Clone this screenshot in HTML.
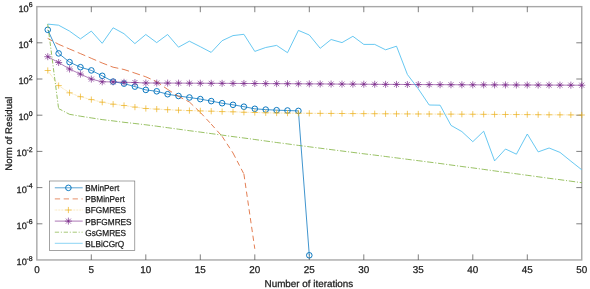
<!DOCTYPE html>
<html><head><meta charset="utf-8"><title>Norm of Residual</title>
<style>html,body{margin:0;padding:0;background:#fff}svg{display:block}text{font-family:"Liberation Sans",Arial,Helvetica,sans-serif;fill:#1a1a1a;stroke:#1a1a1a;stroke-width:0.25px;text-rendering:geometricPrecision}</style></head><body>
<svg width="590" height="289" viewBox="0 0 590 289">
<rect width="590" height="289" fill="#fff"/>
<g>
<rect x="36.85" y="6.65" width="544.90" height="253.30" fill="none" stroke="#262626" stroke-opacity="0.4" stroke-width="1.4"/>
<path d="M91.3,259.9v-5.5M91.3,6.7v5.5M145.8,259.9v-5.5M145.8,6.7v5.5M200.3,259.9v-5.5M200.3,6.7v5.5M254.8,259.9v-5.5M254.8,6.7v5.5M309.3,259.9v-5.5M309.3,6.7v5.5M363.8,259.9v-5.5M363.8,6.7v5.5M418.3,259.9v-5.5M418.3,6.7v5.5M472.8,259.9v-5.5M472.8,6.7v5.5M527.3,259.9v-5.5M527.3,6.7v5.5M36.9,42.8h5.5M581.8,42.8h-5.5M36.9,79.0h5.5M581.8,79.0h-5.5M36.9,115.2h5.5M581.8,115.2h-5.5M36.9,151.4h5.5M581.8,151.4h-5.5M36.9,187.6h5.5M581.8,187.6h-5.5M36.9,223.8h5.5M581.8,223.8h-5.5" fill="none" stroke="#262626" stroke-opacity="0.9" stroke-width="0.65"/>
<g fill="none" stroke-linejoin="round">
<polyline points="47.7,29.8 58.6,53.4 69.5,62.1 80.4,67.2 91.3,70.4 102.2,75.8 113.1,81.6 124.0,83.6 134.9,86.6 145.8,89.9 156.7,91.3 167.6,94.2 178.5,96.0 189.4,97.5 200.3,99.1 211.2,101.1 222.1,103.2 233.0,104.8 243.9,106.7 254.8,108.8 265.7,109.6 276.6,110.2 287.5,110.5 298.4,110.9 309.3,255.3" stroke="#0072BD" stroke-width="0.75"/>
<path d="M44.95,29.80a2.80,2.80 0 1,0 5.60,0a2.80,2.80 0 1,0 -5.60,0M55.85,53.40a2.80,2.80 0 1,0 5.60,0a2.80,2.80 0 1,0 -5.60,0M66.74,62.10a2.80,2.80 0 1,0 5.60,0a2.80,2.80 0 1,0 -5.60,0M77.64,67.20a2.80,2.80 0 1,0 5.60,0a2.80,2.80 0 1,0 -5.60,0M88.54,70.40a2.80,2.80 0 1,0 5.60,0a2.80,2.80 0 1,0 -5.60,0M99.44,75.80a2.80,2.80 0 1,0 5.60,0a2.80,2.80 0 1,0 -5.60,0M110.34,81.60a2.80,2.80 0 1,0 5.60,0a2.80,2.80 0 1,0 -5.60,0M121.23,83.60a2.80,2.80 0 1,0 5.60,0a2.80,2.80 0 1,0 -5.60,0M132.13,86.60a2.80,2.80 0 1,0 5.60,0a2.80,2.80 0 1,0 -5.60,0M143.03,89.90a2.80,2.80 0 1,0 5.60,0a2.80,2.80 0 1,0 -5.60,0M153.93,91.30a2.80,2.80 0 1,0 5.60,0a2.80,2.80 0 1,0 -5.60,0M164.83,94.20a2.80,2.80 0 1,0 5.60,0a2.80,2.80 0 1,0 -5.60,0M175.72,96.00a2.80,2.80 0 1,0 5.60,0a2.80,2.80 0 1,0 -5.60,0M186.62,97.50a2.80,2.80 0 1,0 5.60,0a2.80,2.80 0 1,0 -5.60,0M197.52,99.10a2.80,2.80 0 1,0 5.60,0a2.80,2.80 0 1,0 -5.60,0M208.42,101.10a2.80,2.80 0 1,0 5.60,0a2.80,2.80 0 1,0 -5.60,0M219.32,103.20a2.80,2.80 0 1,0 5.60,0a2.80,2.80 0 1,0 -5.60,0M230.21,104.80a2.80,2.80 0 1,0 5.60,0a2.80,2.80 0 1,0 -5.60,0M241.11,106.70a2.80,2.80 0 1,0 5.60,0a2.80,2.80 0 1,0 -5.60,0M252.01,108.80a2.80,2.80 0 1,0 5.60,0a2.80,2.80 0 1,0 -5.60,0M262.91,109.60a2.80,2.80 0 1,0 5.60,0a2.80,2.80 0 1,0 -5.60,0M273.81,110.20a2.80,2.80 0 1,0 5.60,0a2.80,2.80 0 1,0 -5.60,0M284.70,110.50a2.80,2.80 0 1,0 5.60,0a2.80,2.80 0 1,0 -5.60,0M295.60,110.90a2.80,2.80 0 1,0 5.60,0a2.80,2.80 0 1,0 -5.60,0M306.50,255.30a2.80,2.80 0 1,0 5.60,0a2.80,2.80 0 1,0 -5.60,0" stroke="#0072BD" stroke-width="0.95"/>
<path d="M47.7,38.4L58.6,44.3M58.6,44.3L69.5,49.0M69.5,49.0L80.4,53.6M80.4,53.6L91.3,58.3M91.3,58.3L102.2,63.0M102.2,63.0L113.1,67.2M113.1,67.2L124.0,69.5M124.0,69.5L134.9,73.1M134.9,73.1L145.8,76.8M145.8,76.8L156.7,81.7M156.7,81.7L167.6,89.4M167.6,89.4L178.5,96.4M178.5,96.4L189.4,102.0M189.4,102.0L200.3,112.4M200.3,112.4L211.2,124.1M211.2,124.1L222.1,136.3M222.1,136.3L233.0,153.0M233.0,153.0L243.9,174.0M243.9,174.0L254.8,248.8" stroke="#D95319" stroke-width="0.75" stroke-dasharray="5.3,3.6"/>
<path d="M47.7,70.5L58.6,85.6M58.6,85.6L69.5,92.8M69.5,92.8L80.4,96.7M80.4,96.7L91.3,99.6M91.3,99.6L102.2,102.2M102.2,102.2L113.1,104.2M113.1,104.2L124.0,105.5M124.0,105.5L134.9,107.1M134.9,107.1L145.8,108.5M145.8,108.5L156.7,109.1M156.7,109.1L167.6,109.7M167.6,109.7L178.5,110.2M178.5,110.2L189.4,110.6M189.4,110.6L200.3,110.9M200.3,110.9L211.2,111.2M211.2,111.2L222.1,111.6M222.1,111.6L233.0,111.8M233.0,111.8L243.9,112.2M243.9,112.2L254.8,112.5M254.8,112.5L265.7,112.8M265.7,112.8L276.6,113.0M276.6,113.0L287.5,113.1M287.5,113.1L298.4,113.2M298.4,113.2L309.3,113.3M309.3,113.3L320.2,113.4M320.2,113.4L331.1,113.4M331.1,113.4L342.0,113.5M342.0,113.5L352.9,113.6M352.9,113.6L363.8,113.6M363.8,113.6L374.7,113.7M374.7,113.7L385.6,113.8M385.6,113.8L396.5,113.8M396.5,113.8L407.4,113.9M407.4,113.9L418.3,114.0M418.3,114.0L429.2,114.0M429.2,114.0L440.1,114.1M440.1,114.1L451.0,114.1M451.0,114.1L461.9,114.2M461.9,114.2L472.8,114.2M472.8,114.2L483.7,114.3M483.7,114.3L494.6,114.4M494.6,114.4L505.5,114.5M505.5,114.5L516.4,114.5M516.4,114.5L527.3,114.6M527.3,114.6L538.2,114.7M538.2,114.7L549.1,114.8M549.1,114.8L560.0,114.8M560.0,114.8L570.9,114.9M570.9,114.9L581.8,115.0" stroke="#EDB120" stroke-width="0.75" stroke-opacity="0.6" stroke-dasharray="0.7,0.8"/>
<path d="M44.65,70.50h6.20M47.75,67.40v6.20M55.55,85.60h6.20M58.65,82.50v6.20M66.44,92.80h6.20M69.54,89.70v6.20M77.34,96.70h6.20M80.44,93.60v6.20M88.24,99.60h6.20M91.34,96.50v6.20M99.14,102.20h6.20M102.24,99.10v6.20M110.04,104.20h6.20M113.14,101.10v6.20M120.93,105.50h6.20M124.03,102.40v6.20M131.83,107.10h6.20M134.93,104.00v6.20M142.73,108.50h6.20M145.83,105.40v6.20M153.63,109.10h6.20M156.73,106.00v6.20M164.53,109.70h6.20M167.63,106.60v6.20M175.42,110.20h6.20M178.52,107.10v6.20M186.32,110.60h6.20M189.42,107.50v6.20M197.22,110.90h6.20M200.32,107.80v6.20M208.12,111.20h6.20M211.22,108.10v6.20M219.02,111.60h6.20M222.12,108.50v6.20M229.91,111.80h6.20M233.01,108.70v6.20M240.81,112.25h6.20M243.91,109.15v6.20M251.71,112.50h6.20M254.81,109.40v6.20M262.61,112.80h6.20M265.71,109.70v6.20M273.51,113.00h6.20M276.61,109.90v6.20M284.40,113.10h6.20M287.50,110.00v6.20M295.30,113.20h6.20M298.40,110.10v6.20M306.20,113.30h6.20M309.30,110.20v6.20M317.10,113.37h6.20M320.20,110.27v6.20M328.00,113.44h6.20M331.10,110.34v6.20M338.89,113.51h6.20M341.99,110.41v6.20M349.79,113.57h6.20M352.89,110.47v6.20M360.69,113.64h6.20M363.79,110.54v6.20M371.59,113.71h6.20M374.69,110.61v6.20M382.49,113.78h6.20M385.59,110.68v6.20M393.38,113.85h6.20M396.48,110.75v6.20M404.28,113.91h6.20M407.38,110.81v6.20M415.18,113.96h6.20M418.28,110.86v6.20M426.08,114.02h6.20M429.18,110.92v6.20M436.98,114.08h6.20M440.08,110.98v6.20M447.87,114.14h6.20M450.97,111.04v6.20M458.77,114.19h6.20M461.87,111.09v6.20M469.67,114.25h6.20M472.77,111.15v6.20M480.57,114.33h6.20M483.67,111.23v6.20M491.47,114.40h6.20M494.57,111.30v6.20M502.36,114.47h6.20M505.46,111.38v6.20M513.26,114.55h6.20M516.36,111.45v6.20M524.16,114.62h6.20M527.26,111.53v6.20M535.06,114.70h6.20M538.16,111.60v6.20M545.96,114.78h6.20M549.06,111.68v6.20M556.85,114.85h6.20M559.95,111.75v6.20M567.75,114.92h6.20M570.85,111.83v6.20M578.65,115.00h6.20M581.75,111.90v6.20" stroke="#EDB120" stroke-width="0.7"/>
<polyline points="47.7,56.7 58.6,62.5 69.5,69.0 80.4,74.1 91.3,79.1 102.2,81.8 113.1,81.9 124.0,82.3 134.9,82.5 145.8,83.0 156.7,83.0 167.6,83.1 178.5,83.1 189.4,83.2 200.3,83.2 211.2,83.3 222.1,83.3 233.0,83.4 243.9,83.5 254.8,83.5 265.7,83.6 276.6,83.7 287.5,83.7 298.4,83.8 309.3,83.9 320.2,83.9 331.1,84.0 342.0,84.1 352.9,84.1 363.8,84.2 374.7,84.3 385.6,84.4 396.5,84.4 407.4,84.5 418.3,84.6 429.2,84.6 440.1,84.7 451.0,84.7 461.9,84.8 472.8,84.8 483.7,84.9 494.6,84.9 505.5,84.9 516.4,85.0 527.3,85.0 538.2,85.0 549.1,85.1 560.0,85.1 570.9,85.2 581.8,85.2" stroke="#7E2F8E" stroke-width="0.62"/>
<path d="M44.25,56.70h7.00M47.75,53.20v7.00M45.25,54.20l5.00,5.00M45.25,59.20l5.00,-5.00M47.35,56.30h0.8v0.8h-0.8zM55.15,62.50h7.00M58.65,59.00v7.00M56.15,60.00l5.00,5.00M56.15,65.00l5.00,-5.00M58.25,62.10h0.8v0.8h-0.8zM66.04,69.00h7.00M69.54,65.50v7.00M67.04,66.50l5.00,5.00M67.04,71.50l5.00,-5.00M69.14,68.60h0.8v0.8h-0.8zM76.94,74.10h7.00M80.44,70.60v7.00M77.94,71.60l5.00,5.00M77.94,76.60l5.00,-5.00M80.04,73.70h0.8v0.8h-0.8zM87.84,79.10h7.00M91.34,75.60v7.00M88.84,76.60l5.00,5.00M88.84,81.60l5.00,-5.00M90.94,78.70h0.8v0.8h-0.8zM98.74,81.80h7.00M102.24,78.30v7.00M99.74,79.30l5.00,5.00M99.74,84.30l5.00,-5.00M101.84,81.40h0.8v0.8h-0.8zM109.64,81.90h7.00M113.14,78.40v7.00M110.64,79.40l5.00,5.00M110.64,84.40l5.00,-5.00M112.74,81.50h0.8v0.8h-0.8zM120.53,82.30h7.00M124.03,78.80v7.00M121.53,79.80l5.00,5.00M121.53,84.80l5.00,-5.00M123.63,81.90h0.8v0.8h-0.8zM131.43,82.50h7.00M134.93,79.00v7.00M132.43,80.00l5.00,5.00M132.43,85.00l5.00,-5.00M134.53,82.10h0.8v0.8h-0.8zM142.33,83.00h7.00M145.83,79.50v7.00M143.33,80.50l5.00,5.00M143.33,85.50l5.00,-5.00M145.43,82.60h0.8v0.8h-0.8zM153.23,83.05h7.00M156.73,79.55v7.00M154.23,80.55l5.00,5.00M154.23,85.55l5.00,-5.00M156.33,82.65h0.8v0.8h-0.8zM164.13,83.10h7.00M167.63,79.60v7.00M165.13,80.60l5.00,5.00M165.13,85.60l5.00,-5.00M167.23,82.70h0.8v0.8h-0.8zM175.02,83.15h7.00M178.52,79.65v7.00M176.02,80.65l5.00,5.00M176.02,85.65l5.00,-5.00M178.12,82.75h0.8v0.8h-0.8zM185.92,83.20h7.00M189.42,79.70v7.00M186.92,80.70l5.00,5.00M186.92,85.70l5.00,-5.00M189.02,82.80h0.8v0.8h-0.8zM196.82,83.25h7.00M200.32,79.75v7.00M197.82,80.75l5.00,5.00M197.82,85.75l5.00,-5.00M199.92,82.85h0.8v0.8h-0.8zM207.72,83.30h7.00M211.22,79.80v7.00M208.72,80.80l5.00,5.00M208.72,85.80l5.00,-5.00M210.82,82.90h0.8v0.8h-0.8zM218.62,83.35h7.00M222.12,79.85v7.00M219.62,80.85l5.00,5.00M219.62,85.85l5.00,-5.00M221.72,82.95h0.8v0.8h-0.8zM229.51,83.40h7.00M233.01,79.90v7.00M230.51,80.90l5.00,5.00M230.51,85.90l5.00,-5.00M232.61,83.00h0.8v0.8h-0.8zM240.41,83.45h7.00M243.91,79.95v7.00M241.41,80.95l5.00,5.00M241.41,85.95l5.00,-5.00M243.51,83.05h0.8v0.8h-0.8zM251.31,83.50h7.00M254.81,80.00v7.00M252.31,81.00l5.00,5.00M252.31,86.00l5.00,-5.00M254.41,83.10h0.8v0.8h-0.8zM262.21,83.58h7.00M265.71,80.08v7.00M263.21,81.08l5.00,5.00M263.21,86.08l5.00,-5.00M265.31,83.17h0.8v0.8h-0.8zM273.11,83.65h7.00M276.61,80.15v7.00M274.11,81.15l5.00,5.00M274.11,86.15l5.00,-5.00M276.21,83.25h0.8v0.8h-0.8zM284.00,83.72h7.00M287.50,80.22v7.00M285.00,81.22l5.00,5.00M285.00,86.22l5.00,-5.00M287.10,83.32h0.8v0.8h-0.8zM294.90,83.80h7.00M298.40,80.30v7.00M295.90,81.30l5.00,5.00M295.90,86.30l5.00,-5.00M298.00,83.40h0.8v0.8h-0.8zM305.80,83.87h7.00M309.30,80.37v7.00M306.80,81.37l5.00,5.00M306.80,86.37l5.00,-5.00M308.90,83.47h0.8v0.8h-0.8zM316.70,83.94h7.00M320.20,80.44v7.00M317.70,81.44l5.00,5.00M317.70,86.44l5.00,-5.00M319.80,83.54h0.8v0.8h-0.8zM327.60,84.01h7.00M331.10,80.51v7.00M328.60,81.51l5.00,5.00M328.60,86.51l5.00,-5.00M330.70,83.61h0.8v0.8h-0.8zM338.49,84.08h7.00M341.99,80.58v7.00M339.49,81.58l5.00,5.00M339.49,86.58l5.00,-5.00M341.59,83.68h0.8v0.8h-0.8zM349.39,84.15h7.00M352.89,80.65v7.00M350.39,81.65l5.00,5.00M350.39,86.65l5.00,-5.00M352.49,83.75h0.8v0.8h-0.8zM360.29,84.22h7.00M363.79,80.72v7.00M361.29,81.72l5.00,5.00M361.29,86.72l5.00,-5.00M363.39,83.82h0.8v0.8h-0.8zM371.19,84.28h7.00M374.69,80.78v7.00M372.19,81.78l5.00,5.00M372.19,86.78l5.00,-5.00M374.29,83.88h0.8v0.8h-0.8zM382.09,84.35h7.00M385.59,80.85v7.00M383.09,81.85l5.00,5.00M383.09,86.85l5.00,-5.00M385.19,83.95h0.8v0.8h-0.8zM392.98,84.42h7.00M396.48,80.92v7.00M393.98,81.92l5.00,5.00M393.98,86.92l5.00,-5.00M396.08,84.02h0.8v0.8h-0.8zM403.88,84.49h7.00M407.38,80.99v7.00M404.88,81.99l5.00,5.00M404.88,86.99l5.00,-5.00M406.98,84.09h0.8v0.8h-0.8zM414.78,84.56h7.00M418.28,81.06v7.00M415.78,82.06l5.00,5.00M415.78,87.06l5.00,-5.00M417.88,84.16h0.8v0.8h-0.8zM425.68,84.63h7.00M429.18,81.13v7.00M426.68,82.13l5.00,5.00M426.68,87.13l5.00,-5.00M428.78,84.23h0.8v0.8h-0.8zM436.58,84.70h7.00M440.08,81.20v7.00M437.58,82.20l5.00,5.00M437.58,87.20l5.00,-5.00M439.68,84.30h0.8v0.8h-0.8zM447.47,84.74h7.00M450.97,81.24v7.00M448.47,82.24l5.00,5.00M448.47,87.24l5.00,-5.00M450.57,84.34h0.8v0.8h-0.8zM458.37,84.78h7.00M461.87,81.28v7.00M459.37,82.28l5.00,5.00M459.37,87.28l5.00,-5.00M461.47,84.38h0.8v0.8h-0.8zM469.27,84.82h7.00M472.77,81.32v7.00M470.27,82.32l5.00,5.00M470.27,87.32l5.00,-5.00M472.37,84.42h0.8v0.8h-0.8zM480.17,84.85h7.00M483.67,81.35v7.00M481.17,82.35l5.00,5.00M481.17,87.35l5.00,-5.00M483.27,84.45h0.8v0.8h-0.8zM491.07,84.89h7.00M494.57,81.39v7.00M492.07,82.39l5.00,5.00M492.07,87.39l5.00,-5.00M494.17,84.49h0.8v0.8h-0.8zM501.96,84.93h7.00M505.46,81.43v7.00M502.96,82.43l5.00,5.00M502.96,87.43l5.00,-5.00M505.06,84.53h0.8v0.8h-0.8zM512.86,84.97h7.00M516.36,81.47v7.00M513.86,82.47l5.00,5.00M513.86,87.47l5.00,-5.00M515.96,84.57h0.8v0.8h-0.8zM523.76,85.01h7.00M527.26,81.51v7.00M524.76,82.51l5.00,5.00M524.76,87.51l5.00,-5.00M526.86,84.61h0.8v0.8h-0.8zM534.66,85.05h7.00M538.16,81.55v7.00M535.66,82.55l5.00,5.00M535.66,87.55l5.00,-5.00M537.76,84.65h0.8v0.8h-0.8zM545.56,85.08h7.00M549.06,81.58v7.00M546.56,82.58l5.00,5.00M546.56,87.58l5.00,-5.00M548.66,84.68h0.8v0.8h-0.8zM556.45,85.12h7.00M559.95,81.62v7.00M557.45,82.62l5.00,5.00M557.45,87.62l5.00,-5.00M559.55,84.72h0.8v0.8h-0.8zM567.35,85.16h7.00M570.85,81.66v7.00M568.35,82.66l5.00,5.00M568.35,87.66l5.00,-5.00M570.45,84.76h0.8v0.8h-0.8zM578.25,85.20h7.00M581.75,81.70v7.00M579.25,82.70l5.00,5.00M579.25,87.70l5.00,-5.00M581.35,84.80h0.8v0.8h-0.8z" stroke="#7E2F8E" stroke-width="0.7"/>
<path d="M47.7,24.0L58.6,108.6M58.6,108.6L69.5,114.3M69.5,114.3L80.4,116.2M80.4,116.2L91.3,117.9M91.3,117.9L102.2,119.6M102.2,119.6L113.1,120.9M113.1,120.9L124.0,122.3M124.0,122.3L134.9,123.5M134.9,123.5L145.8,124.8M145.8,124.8L156.7,126.2M156.7,126.2L167.6,127.7M167.6,127.7L178.5,129.2M178.5,129.2L189.4,130.7M189.4,130.7L200.3,132.1M200.3,132.1L211.2,133.6M211.2,133.6L222.1,135.1M222.1,135.1L233.0,136.6M233.0,136.6L243.9,138.0M243.9,138.0L254.8,139.5M254.8,139.5L265.7,141.0M265.7,141.0L276.6,142.5M276.6,142.5L287.5,143.9M287.5,143.9L298.4,145.4M298.4,145.4L309.3,146.8M309.3,146.8L320.2,148.2M320.2,148.2L331.1,149.6M331.1,149.6L342.0,151.0M342.0,151.0L352.9,152.4M352.9,152.4L363.8,153.8M363.8,153.8L374.7,155.1M374.7,155.1L385.6,156.5M385.6,156.5L396.5,157.9M396.5,157.9L407.4,159.3M407.4,159.3L418.3,160.7M418.3,160.7L429.2,162.1M429.2,162.1L440.1,163.5M440.1,163.5L451.0,165.0M451.0,165.0L461.9,166.5M461.9,166.5L472.8,167.9M472.8,167.9L483.7,169.4M483.7,169.4L494.6,170.9M494.6,170.9L505.5,172.4M505.5,172.4L516.4,173.8M516.4,173.8L527.3,175.3M527.3,175.3L538.2,176.8M538.2,176.8L549.1,178.3M549.1,178.3L560.0,179.7M560.0,179.7L570.9,181.2M570.9,181.2L581.8,182.7" stroke="#77AC30" stroke-width="0.75" stroke-dasharray="4.3,1.75,1.1,1.75"/>
<polyline points="47.7,24.1 58.6,25.2 69.5,31.1 80.4,38.9 91.3,31.1 102.2,43.3 113.1,27.8 124.0,33.7 134.9,43.6 145.8,34.5 156.7,42.6 167.6,34.5 178.5,47.2 189.4,41.2 200.3,46.7 211.2,52.4 222.1,40.7 233.0,35.6 243.9,34.3 254.8,51.4 265.7,47.5 276.6,45.4 287.5,52.7 298.4,30.4 309.3,35.0 320.2,48.3 331.1,39.5 342.0,42.6 352.9,36.3 363.8,44.4 374.7,44.4 385.6,49.8 396.5,46.2 407.4,74.5 418.3,88.9 429.2,105.0 440.1,105.2 451.0,125.4 461.9,131.6 472.8,141.7 483.7,131.2 494.6,160.9 505.5,149.0 516.4,154.2 527.3,134.0 538.2,151.9 549.1,148.0 560.0,152.4 570.9,161.2 581.8,169.8" stroke="#4DBEEE" stroke-width="0.85"/>
</g>
<g font-size="9.9px" text-anchor="middle">
<text transform="translate(36.9,273.35)">0</text>
<text transform="translate(91.3,273.35)">5</text>
<text transform="translate(145.8,273.35)">10</text>
<text transform="translate(200.3,273.35)">15</text>
<text transform="translate(254.8,273.35)">20</text>
<text transform="translate(309.3,273.35)">25</text>
<text transform="translate(363.8,273.35)">30</text>
<text transform="translate(418.3,273.35)">35</text>
<text transform="translate(472.8,273.35)">40</text>
<text transform="translate(527.3,273.35)">45</text>
<text transform="translate(581.8,273.35)">50</text>
</g>
<g font-size="9.2px" text-anchor="end">
<text x="28.7" y="11.7">10</text>
<text x="28.7" y="47.9">10</text>
<text x="28.7" y="84.1">10</text>
<text x="28.7" y="120.3">10</text>
<text x="26.8" y="156.4">10</text>
<text x="26.8" y="192.6">10</text>
<text x="26.8" y="228.8">10</text>
<text x="26.8" y="265.0">10</text>
</g>
<g font-size="6.9px" text-anchor="end" stroke-width="0.15">
<text x="32.7" y="7.2">6</text>
<text x="32.7" y="43.4">4</text>
<text x="32.7" y="79.6">2</text>
<text x="32.7" y="115.8">0</text>
<text x="32.7" y="152.0">-2</text>
<text x="32.7" y="188.2">-4</text>
<text x="32.7" y="224.4">-6</text>
<text x="32.7" y="260.6">-8</text>
</g>
<text transform="translate(308.9,286.6)" font-size="9.85px" text-anchor="middle">Number of iterations</text>
<text transform="translate(11.7,133.6) rotate(-90)" font-size="9.6px" text-anchor="middle">Norm of Residual</text>
<rect x="49.45" y="181.0" width="85.35" height="69.45" fill="#fff" stroke="#262626" stroke-opacity="0.7" stroke-width="0.6"/>
<g font-size="8.7px">
<text transform="translate(85.3,191.2) scale(0.95,1)">BMinPert</text>
<text transform="translate(85.3,202.3) scale(0.95,1)">PBMinPert</text>
<text transform="translate(85.3,213.4) scale(0.95,1)">BFGMRES</text>
<text transform="translate(85.3,224.5) scale(0.95,1)">PBFGMRES</text>
<text transform="translate(85.3,235.6) scale(0.95,1)">GsGMRES</text>
<text transform="translate(85.3,246.7) scale(0.95,1)">BLBiCGrQ</text>
</g>
<g fill="none">
<path d="M54.8,187.8H82.7" stroke="#0072BD" stroke-width="0.65"/>
<path d="M65.60,187.85a2.80,2.80 0 1,0 5.60,0a2.80,2.80 0 1,0 -5.60,0" stroke="#0072BD" stroke-width="0.95"/>
<path d="M54.8,198.9H82.7" stroke="#D95319" stroke-width="0.65" stroke-dasharray="5.3,3.6"/>
<path d="M54.8,210.0H82.7" stroke="#EDB120" stroke-width="0.65" stroke-opacity="0.6" stroke-dasharray="0.7,0.8"/>
<path d="M65.30,210.03h6.20M68.40,206.93v6.20" stroke="#EDB120" stroke-width="0.7"/>
<path d="M54.8,221.1H82.7" stroke="#7E2F8E" stroke-width="0.65"/>
<path d="M64.90,221.12h7.00M68.40,217.62v7.00M65.90,218.62l5.00,5.00M65.90,223.62l5.00,-5.00M68.00,220.72h0.8v0.8h-0.8z" stroke="#7E2F8E" stroke-width="0.7"/>
<path d="M54.8,232.2H82.7" stroke="#77AC30" stroke-width="0.65" stroke-dasharray="4.3,1.75,1.1,1.75"/>
<path d="M54.8,243.3H82.7" stroke="#4DBEEE" stroke-width="0.65"/>
</g>
</g>
</svg></body></html>
